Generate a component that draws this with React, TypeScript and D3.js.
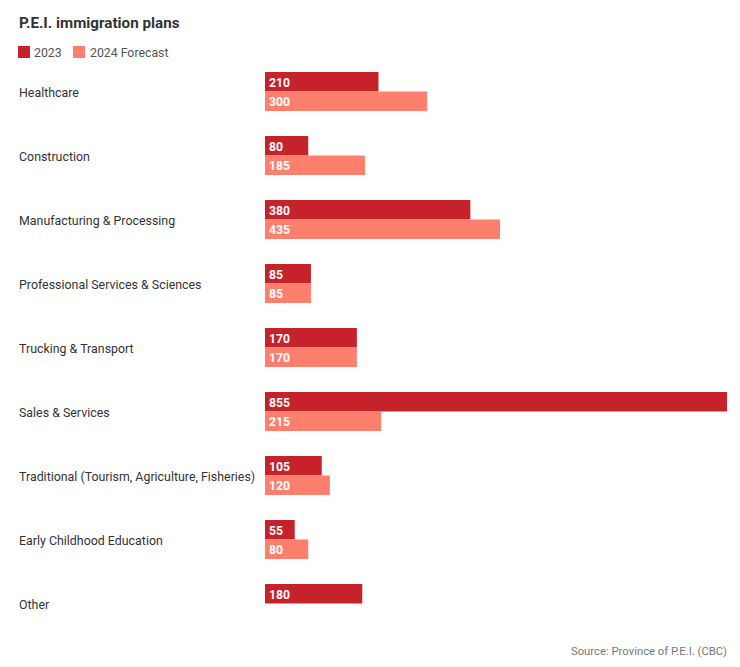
import * as d3 from "d3";

const categories = [
  "Healthcare",
  "Construction",
  "Manufacturing & Processing",
  "Professional Services & Sciences",
  "Trucking & Transport",
  "Sales & Services",
  "Traditional (Tourism, Agriculture, Fisheries)",
  "Early Childhood Education",
  "Other",
];
const seriesNames = ["2023", "2024 Forecast"];
const values2023 = [210, 80, 380, 85, 170, 855, 105, 55, 180];
const values2024: (number | null)[] = [300, 185, 435, 85, 170, 215, 120, 80, null];
const colors = ["#c5222a", "#ff7f6e"];

export default function App() {
  const width = 740;
  const height = 667;
  const barLeft = 265;
  const barRight = 727;

  const x = d3.scaleLinear([0, 855], [barLeft, barRight]);
  const y = d3
    .scaleBand<string>()
    .domain(categories)
    .range([72, 623])
    .paddingInner(25 / 64)
    .paddingOuter(0);
  const sub = d3.scaleBand<string>().domain(seriesNames).range([0, y.bandwidth()]);

  const font = "Roboto, 'Noto Sans', sans-serif";

  return (
    <svg
      width={width}
      height={height}
      style={{ position: "absolute", left: 0, top: 0, background: "#fff" }}
      fontFamily={font}
    >
      <text x={19} y={28} fontSize={15.2} fontWeight={700} fill="#333">
        P.E.I. immigration plans
      </text>

      {/* legend */}
      <g fontSize={12.3} fill="#555">
        <rect x={18} y={46} width={12} height={12} fill={colors[0]} />
        <text x={34} y={57}>{seriesNames[0]}</text>
        <rect x={73} y={46} width={12} height={12} fill={colors[1]} />
        <text x={90} y={57}>{seriesNames[1]}</text>
      </g>

      {categories.map((c, i) => {
        const y0 = y(c)!;
        const rows = [values2023[i], values2024[i]];
        return (
          <g key={c}>
            <text
              x={19}
              y={y0 + y.bandwidth() / 2 + 1}
              dy="0.35em"
              fontSize={12.4}
              fill="#333"
            >
              {c}
            </text>
            {rows.map((v, j) =>
              v == null ? null : (
                <g key={j}>
                  <rect
                    x={x(0)}
                    y={y0 + sub(seriesNames[j])!}
                    width={x(v) - x(0)}
                    height={sub.bandwidth()}
                    fill={colors[j]}
                  />
                  <text
                    x={x(0) + 4}
                    y={y0 + sub(seriesNames[j])! + sub.bandwidth() / 2 + 0.5}
                    dy="0.36em"
                    fontSize={12.2}
                    fontWeight={700}
                    fill="#fff"
                  >
                    {v}
                  </text>
                </g>
              )
            )}
          </g>
        );
      })}

      <text x={727} y={655} textAnchor="end" fontSize={11.3} fill="#777">
        Source: Province of P.E.I. (CBC)
      </text>
    </svg>
  );
}
